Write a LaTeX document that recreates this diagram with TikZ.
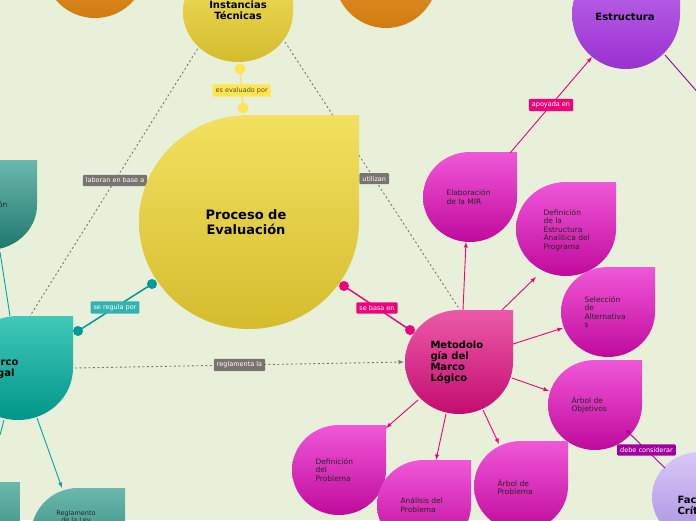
\documentclass[tikz,border=0pt]{standalone}
\usepackage{fontspec}
\setmainfont{DejaVu Sans}
\definecolor{bg}{HTML}{E8F0DA}
\definecolor{ytop}{HTML}{F2E160}\definecolor{ybot}{HTML}{D4BC2C}
\definecolor{ptop}{HTML}{F057D8}\definecolor{pbot}{HTML}{C00A9C}
\definecolor{mtop}{HTML}{EC5AA8}\definecolor{mbot}{HTML}{C40C70}
\definecolor{ttop}{HTML}{40C8B8}\definecolor{tbot}{HTML}{00968A}
\definecolor{gtop}{HTML}{6AB8AC}\definecolor{gbot}{HTML}{1E786C}
\definecolor{otop}{HTML}{F0A040}\definecolor{obot}{HTML}{D07C10}
\definecolor{vtop}{HTML}{C070F0}\definecolor{vbot}{HTML}{9A30D0}
\definecolor{ltop}{HTML}{D8C8F8}\definecolor{lbot}{HTML}{A890E0}
\definecolor{lgray}{HTML}{7A7471}
\newcommand{\mydrop}[6]{%
 \pgfmathsetmacro{\dxa}{#1}\pgfmathsetmacro{\dxb}{#1+#3}%
 \pgfmathsetmacro{\dya}{0-(#2)}\pgfmathsetmacro{\dyb}{0-(#2)+#4}%
 \shade[top color=#5,bottom color=#6] (\dxa,\dyb) -- (\dxb,\dyb) -- (\dxb,\dya)
 arc[start angle=0,end angle=-180,x radius=#3,y radius=#4]
 arc[start angle=180,end angle=90,x radius=#3,y radius=#4] -- cycle;}
\begin{document}
\begin{tikzpicture}[x=1pt,y=1pt,
 lbl/.style={font=\fontsize{6.5}{7.5}\selectfont,text=white,inner sep=3pt,rounded corners=1pt},
 txt/.style={font=\fontsize{7.5}{8.5}\selectfont,align=left,text=black!85},
 big/.style={font=\bfseries\fontsize{10}{11}\selectfont,align=left},
 dsh/.style={lgray,line width=0.9pt,dash pattern=on 2pt off 2.5pt},
 pk/.style={draw=magenta!85!red,line width=0.9pt,-latex},
 tl/.style={draw=teal!70!cyan,line width=0.9pt,-latex}]
\fill[bg] (0,0) rectangle (696,-520);
\useasboundingbox (0,0) rectangle (696,-520);
\clip (0,0) rectangle (696,-520);
\coordinate (ia) at (200,-45); \coordinate (ml) at (30,-316);
\coordinate (ib) at (285,-42); \coordinate (me) at (460,-310);
\draw[dsh] (ia) -- node[lbl,fill=lgray,pos=0.5]{laboran en base a} (ml);
\draw[dsh] (ib) -- node[lbl,fill=lgray,pos=0.51]{utilizan} (me);
\coordinate (mr) at (75,-368); \coordinate (mm) at (404,-362);
\draw[dsh,-latex] (mr) -- node[lbl,fill=lgray,pos=0.5]{reglamenta la} (mm);
\mydrop{95}{-30}{50}{48}{otop}{obot}
\mydrop{386}{-25}{52}{53}{otop}{obot}
\mydrop{238}{12}{55}{50}{ytop}{ybot}
\mydrop{626}{14}{54}{55}{vtop}{vbot}
\mydrop{249}{222}{110}{107}{ytop}{ybot}
\mydrop{470}{197}{47}{45}{ptop}{pbot}
\mydrop{566}{229}{50}{47}{ptop}{pbot}
\mydrop{608}{312}{47}{45}{ptop}{pbot}
\mydrop{595}{405}{47}{45}{ptop}{pbot}
\mydrop{459}{362}{54}{52}{mtop}{mbot}
\mydrop{339}{470}{47}{45}{ptop}{pbot}
\mydrop{424}{505}{47}{45}{ptop}{pbot}
\mydrop{521}{486}{47}{45}{ptop}{pbot}
\mydrop{700}{497}{48}{45}{ltop}{lbot}
\mydrop{18}{368}{55}{52}{ttop}{tbot}
\mydrop{-12}{205}{49}{45}{gtop}{gbot}
\mydrop{-28}{530}{48}{48}{gtop}{gbot}
\mydrop{78}{535}{47}{47}{gtop}{gbot}
\node[big,align=center] (inst) at (238,-10) {Instancias\\Técnicas};
\node[font=\bfseries\fontsize{13}{15}\selectfont,align=center] (proc) at (246,-222) {Proceso de\\ Evaluación};
\node[big] (est) at (625,-17) {Estructura};
\node[txt,anchor=west] (mir) at (443,-197) {Elaboración\\de la MIR};
\node[txt,anchor=west] (dea) at (540,-230) {Definición\\de la\\Estructura\\Analítica del\\Programa};
\node[txt,anchor=west] (sel) at (581,-312) {Selección\\de\\Alternativa\\s};
\node[txt,anchor=west] (aob) at (568,-405) {Árbol de\\Objetivos};
\node[big,anchor=west] (met) at (427,-362) {Metodolo\\gía del\\Marco\\Lógico};
\node[txt,anchor=west] (dpr) at (312,-470) {Definición\\del\\Problema};
\node[txt,anchor=west] (apr) at (397,-505) {Análisis del\\Problema};
\node[txt,anchor=west] (arp) at (494,-487) {Árbol de\\Problema};
\node[big,anchor=west] (fac) at (674,-505) {Factores\\Críticos};
\node[big,anchor=east] (mar) at (22,-368) {Marco\\Legal};
\node[txt,anchor=east] (tl1) at (11,-205) {ión};
\node[font=\fontsize{6.5}{7.5}\selectfont,align=center,text=black!85] (reg) at (76,-517) {Reglamento\\de la Ley};
\coordinate (d1) at (240,-69); \coordinate (d2) at (243,-108);
\draw[yellow!70!orange!60!white,line width=1.2pt] (d1) -- node[lbl,fill=yellow!80!orange!70,text=black!70,pos=0.55]{es evaluado por} (d2);
\fill[yellow!75!orange!65] (d1) circle (5.5) (d2) circle (5.5);
\coordinate (s1) at (152,-284); \coordinate (s2) at (78,-331);
\draw[teal!80!cyan,line width=1.5pt] (s1) -- node[lbl,fill=teal!75!cyan!80!white,pos=0.5]{se regula por} (s2);
\fill[teal!80!cyan] (s1) circle (5) (s2) circle (5);
\coordinate (b1) at (344,-286); \coordinate (b2) at (410,-330);
\draw[magenta!85!red,line width=1.5pt] (b1) -- node[lbl,fill=magenta!85!red,pos=0.5]{se basa en} (b2);
\fill[magenta!85!red] (b1) circle (5) (b2) circle (5);
\draw[pk] (510,-153) -- node[lbl,fill=magenta!85!red,pos=0.5]{apoyada en} (592,-57);
\draw[violet!80!magenta,line width=0.9pt] (665,-55) -- (700,-95);
\draw[violet!70!magenta,line width=0.9pt] (628,-432) -- node[lbl,fill=violet!75!magenta,pos=0.5]{debe considerar} (665,-468);
\fill[violet!70!magenta] (628,-432) circle(2);
\draw[pk] (463,-310) -- (466,-242);
\draw[pk] (502,-310) -- (536,-277);
\draw[pk] (513,-344) -- (563,-328);
\draw[pk] (512,-378) -- (549,-391);
\draw[pk] (483,-410) -- (499,-444);
\draw[pk] (446,-414) -- (436,-460);
\draw[pk] (418,-400) -- (386,-428);
\draw[tl] (37,-418) -- (62,-488);
\draw[teal!70!cyan,line width=0.9pt] (10,-316) -- (0,-252);
\draw[teal!70!cyan,line width=0.9pt] (4,-420) -- (0,-435);
\end{tikzpicture}
\end{document}
